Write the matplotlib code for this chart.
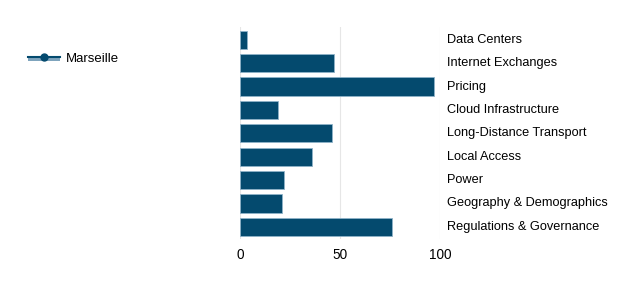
import matplotlib.pyplot as plt
import matplotlib.lines as mlines
import matplotlib.patches as mpatches
from matplotlib.legend_handler import HandlerBase

plt.rcParams['font.family'] = ['Liberation Sans', 'DejaVu Sans']

categories = ["Data Centers", "Internet Exchanges", "Pricing", "Cloud Infrastructure",
              "Long-Distance Transport", "Local Access", "Power",
              "Geography & Demographics", "Regulations & Governance"]
marseille = [3.3, 47, 97, 19, 46, 36, 22, 21, 76]
xticks = [0, 50, 100]

bar_color = "#044a6e"

fig = plt.figure(figsize=(6.3, 2.9), dpi=100)
# axes spans y from 27 px to 239 px
ax = fig.add_axes([240/630, 1 - 239/290, 200/630, 212/290])

pos = list(range(len(categories)))
ax.barh(pos, marseille, height=0.78, color=bar_color, edgecolor="#8fb3c9", linewidth=0.6)
ax.set_ylim(len(categories) - 0.5 + 0.02, -0.5 - 0.05)
ax.set_xlim(0, 100)

ax.set_xticks(xticks)
ax.set_xticklabels([str(t) for t in xticks], fontsize=9.8)
ax.xaxis.grid(True, color="#e6e6e6", linewidth=0.8)
ax.set_axisbelow(True)
ax.tick_params(axis="x", length=0, pad=6.5)

ax.yaxis.tick_right()
ax.set_yticks(pos)
ax.set_yticklabels(categories, fontsize=9.2, va="center")
ax.tick_params(axis="y", length=0, pad=5)
for s in ax.spines.values():
    s.set_visible(False)


class BandLine(HandlerBase):
    def create_artists(self, legend, orig, xd, yd, w, h, fs, trans):
        band = mpatches.Rectangle((xd, yd + h * 0.1), w, h * 0.5, facecolor="#7fa4bd",
                                  edgecolor="none", transform=trans)
        line = mlines.Line2D([xd, xd + w], [yd + h * 0.6, yd + h * 0.6], color=bar_color,
                             linewidth=1.5, transform=trans)
        mk = mlines.Line2D([xd + w / 2], [yd + h * 0.6], marker="o", markersize=5,
                           color=bar_color, transform=trans)
        return [band, line, mk]


handle = mpatches.Patch(label="Marseille")
fig.legend(handles=[handle], labels=["Marseille"], handler_map={mpatches.Patch: BandLine()},
           loc="center left", bbox_to_anchor=(16/630, 1 - 59/290), frameon=False,
           fontsize=9.5, handlelength=2.4, handletextpad=0.45)

fig.savefig("out.png", dpi=100)
